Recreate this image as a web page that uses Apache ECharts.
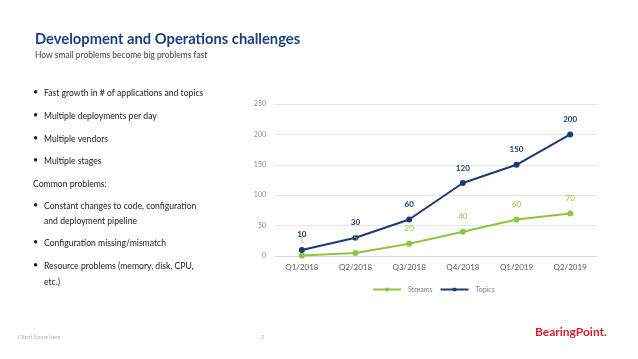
<!DOCTYPE html>
<html><head><meta charset="utf-8">
<script src="https://cdn.jsdelivr.net/npm/echarts@6/dist/echarts.min.js"></script>
<style>html,body{margin:0;padding:0;background:#fff}#c{width:638px;height:359px}</style>
</head><body><div id="c"></div>
<script>
var categories = ['Q1/2018','Q2/2018','Q3/2018','Q4/2018','Q1/2019','Q2/2019'];
var streams = [1, 5, 20, 40, 60, 70];
var topics = [10, 30, 60, 120, 150, 200];
var bullets = [
  ['• ', 'Fast growth in # of applications and topics', 93],
  ['• ', 'Multiple deployments per day', 116],
  ['• ', 'Multiple vendors', 139],
  ['• ', 'Multiple stages', 161],
  ['', 'Common problems:', 184],
  ['• ', 'Constant changes to code, configuration', 206],
  ['', 'and deployment pipeline', 221],
  ['• ', 'Configuration missing/mismatch', 243],
  ['• ', 'Resource problems (memory, disk, CPU,', 266],
  ['', 'etc.)', 282]
];
var FONT = 'Lato';
var blue = '#1b3a7a', green = '#8dc63f';
var graphics = [
  {type:'text', left:35, top:31, scaleX:0.92, style:{text:'Development and Operations challenges', font:'bold 16px '+FONT, fill:'#1c3f7f'}},
  {type:'text', left:35, top:51, scaleX:0.92, style:{text:'How small problems become big problems fast', font:'9.2px '+FONT, fill:'#404040'}},
  {type:'text', left:18, top:334, style:{text:'Client Name here', font:'5.5px '+FONT, fill:'#b0b0b0'}},
  {type:'text', left:261, top:334, style:{text:'2', font:'5.5px '+FONT, fill:'#b0b0b0'}},
  {type:'text', left:535, top:326, style:{text:'BearingPoint.', font:'bold 12px '+FONT, fill:'#d0202f'}}
];
bullets.forEach(function(b){
  var isSub = b[0]==='' && b[1]!=='Common problems:';
  if (b[0]) graphics.push({type:'text', left:33, top:b[2]-5, style:{text:'•', font:'9px '+FONT, fill:'#222'}});
  var x = (b[0] || isSub) ? 44 : 33;
  graphics.push({type:'text', left:x, top:b[2]-5, scaleX:0.92, style:{text:b[1], font:'9.4px '+FONT, fill:'#222'}});
});
var chart = echarts.init(document.getElementById('c'));
chart.setOption({
  animation:false,
  textStyle:{fontFamily:FONT},
  grid:{left:275, right:41, top:104, bottom:103},
  legend:{top:281, left:367, itemGap:7, itemWidth:28, itemHeight:5,
    textStyle:{color:'#7f7f7f', fontSize:7, fontFamily:FONT, padding:[0,0,0,2]}, data:['Streams','Topics']},
  xAxis:{type:'category', data:categories, boundaryGap:true,
    axisLine:{lineStyle:{color:'#d9d9d9'}}, axisTick:{show:false},
    axisLabel:{color:'#595959', fontSize:8, margin:7}},
  yAxis:{type:'value', min:0, max:250, interval:50,
    axisLine:{show:false}, axisTick:{show:false},
    splitLine:{lineStyle:{color:'#e6e6e6'}},
    axisLabel:{color:'#8c8c8c', fontSize:7, margin:9}},
  series:[
    {name:'Streams', type:'line', data:streams, symbol:'circle', symbolSize:6,
      lineStyle:{color:green, width:2}, itemStyle:{color:green},
      label:{show:true, position:'top', color:green, fontSize:8, distance:8}},
    {name:'Topics', type:'line', data:topics, symbol:'circle', symbolSize:6,
      lineStyle:{color:blue, width:2}, itemStyle:{color:blue},
      label:{show:true, position:'top', color:blue, fontSize:8, fontWeight:'bold', distance:8}}
  ],
  graphic:graphics
});
</script></body></html>
